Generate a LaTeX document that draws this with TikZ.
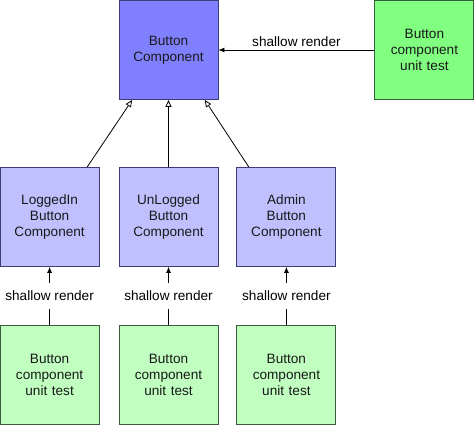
\documentclass[tikz,border=0pt]{standalone}
\usepackage{fontspec}
\setmainfont{Liberation Sans}
\usetikzlibrary{positioning,arrows.meta}
\definecolor{dark_blue}{HTML}{8080FF}
\definecolor{light_blue}{HTML}{C0C0FF}
\definecolor{dark_green}{HTML}{80FF80}
\definecolor{light_green}{HTML}{C0FFC0}
\definecolor{blue_line}{HTML}{3C3C78}
\definecolor{green_line}{HTML}{3C5A3C}

\begin{document}
\begin{tikzpicture}[x=1pt,y=1pt,
  font=\fontsize{13.6}{15.8}\selectfont,
  box/.style={draw,rectangle,minimum size=99pt,text width=90pt,align=center,line width=0.9pt,text=black!90},
  component/.style={box,draw=blue_line,fill=light_blue},
  unit_test/.style={box,draw=green_line,fill=light_green},
  inherit/.style={line width=0.8pt,-{Triangle[open,length=7pt,width=6pt,fill=white]}},
  render/.style={line width=0.8pt,-{Latex[length=6pt,width=5pt]}},
  gap/.style={fill=white,inner xsep=2pt,inner ysep=8pt}]
    \useasboundingbox (0,0) rectangle (474,-425);
    \node (button_component)
    [component,fill=dark_blue] at (168.5,-50) {Button\\Component};
    \node (button_unit_test)
    [unit_test,fill=dark_green,right=156pt of button_component] {Button\\component\\unit test};
    \node (unlogged_component)
    [component,below=67pt of button_component] {UnLogged\\Button\\Component};
    \node (loggedin_component)
    [component,left=19pt of unlogged_component] {LoggedIn\\Button\\Component};
    \node (admin_component)
    [component,right=18pt of unlogged_component] {Admin\\Button\\Component};
    \node (loggedin_unit_test)
    [unit_test,below=58pt of loggedin_component] {Button\\component\\unit test};
    \node (unlogged_unit_test)
    [unit_test,below=58pt of unlogged_component] {Button\\component\\unit test};
    \node (admin_unit_test)
    [unit_test,below=58pt of admin_component] {Button\\component\\unit test};
    % inheritance
    \draw[inherit] (loggedin_component.53) -- (button_component.-126);
    \draw[inherit] (unlogged_component.north) -- (button_component.south);
    \draw[inherit] (admin_component.127) -- (button_component.-54);
    % shallow render
    \draw[render] (button_unit_test) -- node[above] {shallow render} (button_component);
    \draw[render] (loggedin_unit_test) -- node[gap] {shallow render} (loggedin_component);
    \draw[render] (unlogged_unit_test) -- node[gap] {shallow render} (unlogged_component);
    \draw[render] (admin_unit_test) -- node[gap] {shallow render} (admin_component);
  \end{tikzpicture}
\end{document}
